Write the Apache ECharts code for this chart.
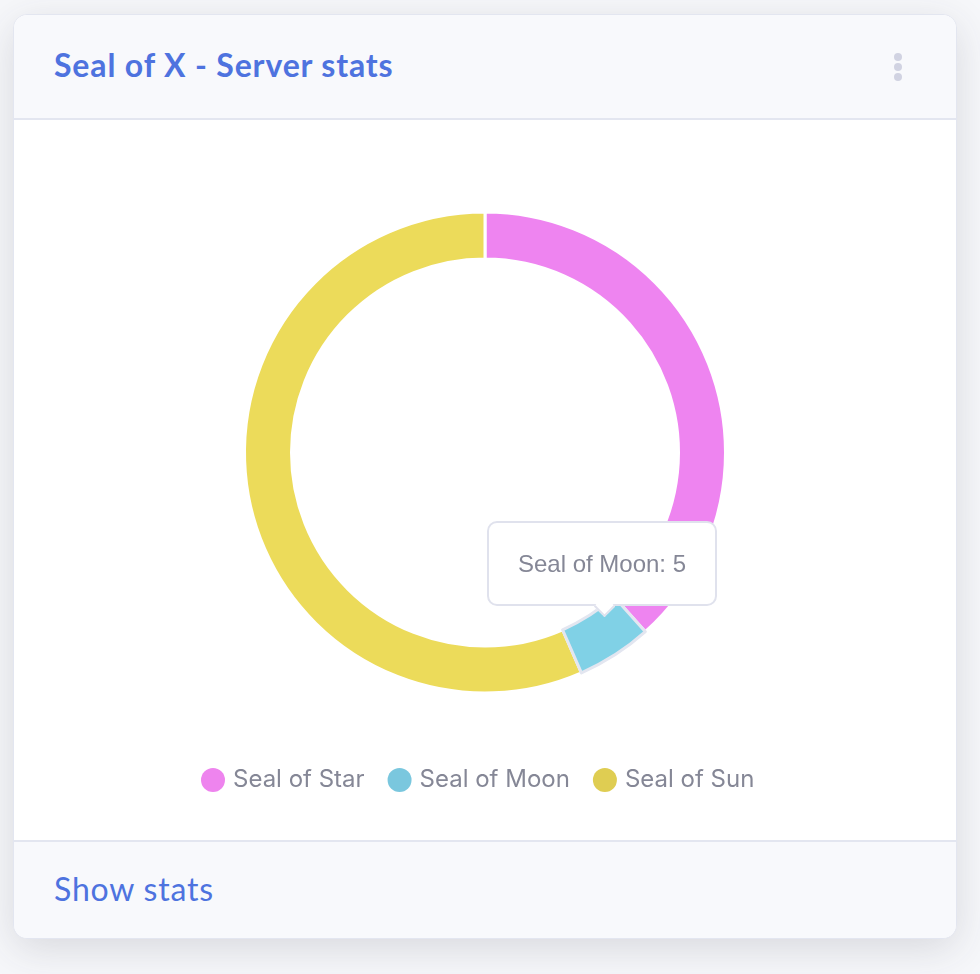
<!DOCTYPE html>
<html>
<head>
<meta charset="utf-8">
<title>Seal of X - Server stats</title>
<script src="https://cdn.jsdelivr.net/npm/echarts@6/dist/echarts.min.js"></script>
<style>
  html, body { margin: 0; padding: 0; width: 980px; height: 974px; overflow: hidden; background: #f6f7fa; }
  body { font-family: Lato, "Noto Sans", sans-serif; }
  .card {
    position: absolute; left: 13px; top: 14px; width: 942px; height: 923px;
    background: #fff; border: 1.5px solid #e3e6f0; border-radius: 14px; overflow: hidden;
  }
  .shadow {
    position: absolute; left: 14px; top: 15px; width: 942px; height: 923px; border-radius: 14px;
    box-shadow: 0 10px 40px rgba(58, 59, 69, 0.16);
  }
  .head, .foot { position: absolute; left: 0; width: 942px; background: #f8f9fc; }
  .head { top: 0; height: 102.5px; border-bottom: 2px solid #e3e6f0; }
  .foot { top: 824.5px; height: 96.5px; border-top: 2px solid #e3e6f0; }
  .title { position: absolute; left: 40px; top: 31.5px; font-size: 32px; line-height: 36px; font-weight: 700; letter-spacing: 0.85px; color: #4e73df; white-space: nowrap; }
  .show { position: absolute; left: 40px; top: 29px; font-size: 32px; line-height: 36px; letter-spacing: 0.8px; color: #4e73df; white-space: nowrap; }
  .dot { position: absolute; left: 879.5px; width: 8px; height: 8px; border-radius: 50%; background: #d1d3e2; }
  #chart { position: absolute; left: 0; top: 104.5px; width: 942px; height: 720px; }
  .arrow {
    position: absolute; left: 108px; top: 76px; width: 13px; height: 13px; background: #fff;
    border-right: 2px solid #e0e2ed; border-bottom: 2px solid #e0e2ed; transform: rotate(45deg);
  }
</style>
</head>
<body>
<div class="shadow"></div>
<div class="card">
  <div class="head">
    <div class="title">Seal of X - Server stats</div>
    <div class="dot" style="top:38px"></div>
    <div class="dot" style="top:48px"></div>
    <div class="dot" style="top:58px"></div>
  </div>
  <div id="chart"></div>
  <div class="foot"><div class="show">Show stats</div></div>
</div>
<script>
  var seals = ['Seal of Star', 'Seal of Moon', 'Seal of Sun'];
  var sealValues = [38, 5, 56];
  var arcColors = ['#ee84f0', '#80d1e6', '#ecdb5a'];
  var legendColors = ['#ee84ee', '#7ac7de', '#dfcd52'];

  var myChart = echarts.init(document.getElementById('chart'));
  var option = {
    animation: false,
    tooltip: {
      trigger: 'item',
      alwaysShowContent: true,
      transitionDuration: 0,
      backgroundColor: '#fff',
      borderColor: '#e0e2ed',
      borderWidth: 2,
      padding: 0,
      extraCssText: 'box-shadow:none;border-radius:10px;width:230px;height:85px;box-sizing:border-box;',
      textStyle: { fontFamily: '"Liberation Sans"', fontSize: 24, color: '#858796' },
      position: function() {
        return [472.5, 401];
      },
      formatter: function(p) {
        return '<div style="text-align:center;line-height:81px;">' + p.name + ': ' + p.value + '</div><div class="arrow"></div>';
      }
    },
    legend: {
      left: 187,
      top: 648,
      padding: 0,
      icon: 'circle',
      itemWidth: 24,
      itemHeight: 24,
      itemGap: 23,
      textStyle: { fontFamily: 'Inter', fontSize: 24, color: '#858796', padding: [0, 0, 0, 3] },
      data: seals.map(function(name, i) {
        return { name: name, itemStyle: { color: legendColors[i], borderWidth: 0 } };
      })
    },
    series: [
      {
        type: 'pie',
        center: [471, 332.5],
        radius: [193.5, 240.5],
        startAngle: 90,
        clockwise: true,
        label: { show: false },
        labelLine: { show: false },
        itemStyle: { borderColor: '#fff', borderWidth: 3 },
        emphasis: { scale: false, itemStyle: { borderColor: '#e3e6f0', borderWidth: 3 } },
        data: seals.map(function(name, i) {
          return {
            name: name,
            value: sealValues[i],
            itemStyle: { color: arcColors[i] },
            emphasis: { itemStyle: { color: arcColors[i] } }
          };
        })
      }
    ]
  };
  myChart.setOption(option);
  myChart.dispatchAction({ type: 'highlight', seriesIndex: 0, dataIndex: 1 });
  myChart.dispatchAction({ type: 'showTip', seriesIndex: 0, dataIndex: 1 });
</script>
</body>
</html>
